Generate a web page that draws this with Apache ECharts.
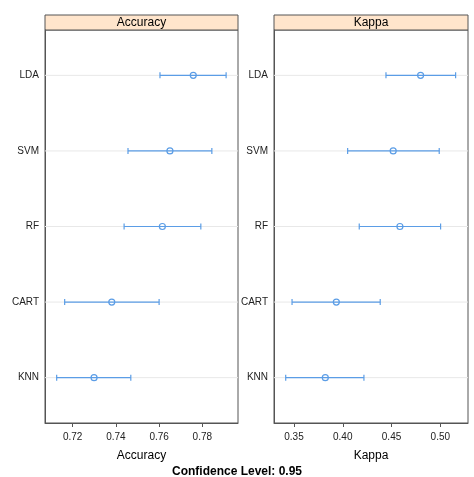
<!DOCTYPE html>
<html>
<head>
<meta charset="utf-8">
<script src="https://cdn.jsdelivr.net/npm/echarts@6/dist/echarts.min.js"></script>
<style>
  html, body { margin: 0; padding: 0; background: #fff; }
  #chart { width: 474px; height: 477px; }
</style>
</head>
<body>
<div id="chart"></div>
<script>
// models, top to bottom as shown
const models = ['LDA', 'SVM', 'RF', 'CART', 'KNN'];

const accMean = [0.7758, 0.7650, 0.7615, 0.7381, 0.7299];
const accLower = [0.7604, 0.7456, 0.7438, 0.7163, 0.7126];
const accUpper = [0.7910, 0.7844, 0.7793, 0.7600, 0.7469];

const kapMean = [0.4798, 0.4517, 0.4586, 0.3934, 0.3821];
const kapLower = [0.4443, 0.4050, 0.4169, 0.3480, 0.3415];
const kapUpper = [0.5157, 0.4989, 0.5003, 0.4384, 0.4217];

const accTicks = [0.72, 0.74, 0.76, 0.78];
const kapTicks = [0.35, 0.40, 0.45, 0.50];

const blue = '#5b9de6';
const frame = '#555555';
const font = '"Liberation Sans", Arial, sans-serif';

const chart = echarts.init(document.getElementById('chart'), null, { renderer: 'canvas' });

// row position: top row gets the highest value
function rowPos(i) { return models.length - 1 - i; }

function buildData(lower, mean, upper) {
  return models.map((m, i) => [lower[i], mean[i], upper[i], rowPos(i)]);
}

function renderBar(params, api) {
  const y = api.value(3);
  const lo = api.coord([api.value(0), y]);
  const mid = api.coord([api.value(1), y]);
  const hi = api.coord([api.value(2), y]);
  const style = { stroke: blue, lineWidth: 1.2 };
  return {
    type: 'group',
    children: [
      { type: 'line', shape: { x1: lo[0], y1: lo[1], x2: hi[0], y2: hi[1] }, style: style },
      { type: 'line', shape: { x1: lo[0], y1: lo[1] - 3, x2: lo[0], y2: lo[1] + 3 }, style: style },
      { type: 'line', shape: { x1: hi[0], y1: hi[1] - 3, x2: hi[0], y2: hi[1] + 3 }, style: style },
      { type: 'circle', shape: { cx: mid[0], cy: mid[1], r: 3 }, style: { stroke: blue, fill: 'none', lineWidth: 1.2 } }
    ]
  };
}

// light guide line across the panel for every row
function renderGuide(params, api) {
  const cs = params.coordSys;
  const y = api.coord([0, api.value(0)])[1];
  return {
    type: 'line',
    shape: { x1: cs.x, y1: y, x2: cs.x + cs.width, y2: y },
    style: { stroke: '#e8e8e8', lineWidth: 1 }
  };
}

const rowData = models.map((m, i) => [rowPos(i)]);

function xAxisFor(idx, min, max, ticks, name) {
  return {
    type: 'value',
    gridIndex: idx,
    min: min,
    max: max,
    name: name,
    nameLocation: 'middle',
    nameGap: 27,
    nameTextStyle: { fontFamily: font, fontSize: 12, color: '#000' },
    axisLine: { show: true, onZero: false, lineStyle: { color: frame } },
    axisTick: { show: true, customValues: ticks, length: 4, lineStyle: { color: frame } },
    axisLabel: {
      customValues: ticks,
      formatter: v => v.toFixed(2),
      fontFamily: font, fontSize: 10, color: '#222', margin: 9
    },
    splitLine: { show: false }
  };
}

function yAxisFor(idx) {
  return {
    type: 'value',
    gridIndex: idx,
    min: -0.6,
    max: 4.6,
    axisLine: { show: true, onZero: false, lineStyle: { color: frame } },
    axisTick: { show: false },
    axisLabel: {
      customValues: [0, 1, 2, 3, 4],
      formatter: v => models[models.length - 1 - Math.round(v)],
      fontFamily: font, fontSize: 10, color: '#222', margin: 6
    },
    splitLine: { show: false }
  };
}

function strip(x, w, text) {
  return {
    type: 'group',
    children: [
      { type: 'rect', shape: { x: x, y: 15, width: w, height: 15 },
        style: { fill: '#ffe5cc', stroke: frame, lineWidth: 1 } },
      { type: 'text', x: x + w / 2, y: 22.5,
        style: { text: text, fill: '#000', font: '12px ' + font, align: 'center', verticalAlign: 'middle' } }
    ]
  };
}

const option = {
  backgroundColor: '#fff',
  animation: false,
  title: {
    text: 'Confidence Level: 0.95',
    left: 'center',
    top: 461,
    textStyle: { fontFamily: font, fontSize: 12, fontWeight: 'bold', color: '#000' }
  },
  grid: [
    { left: 45, right: 236, top: 30, bottom: 54, show: true, borderColor: frame, borderWidth: 1 },
    { left: 274, right: 6, top: 30, bottom: 54, show: true, borderColor: frame, borderWidth: 1 }
  ],
  xAxis: [
    xAxisFor(0, 0.7072, 0.7965, accTicks, 'Accuracy'),
    xAxisFor(1, 0.3295, 0.5284, kapTicks, 'Kappa')
  ],
  yAxis: [yAxisFor(0), yAxisFor(1)],
  graphic: [strip(45, 193, 'Accuracy'), strip(274, 194, 'Kappa')],
  series: [
    { type: 'custom', xAxisIndex: 0, yAxisIndex: 0, renderItem: renderGuide, data: rowData, z: 1, silent: true },
    { type: 'custom', xAxisIndex: 1, yAxisIndex: 1, renderItem: renderGuide, data: rowData, z: 1, silent: true },
    { type: 'custom', name: 'Accuracy', xAxisIndex: 0, yAxisIndex: 0, renderItem: renderBar,
      data: buildData(accLower, accMean, accUpper), z: 2 },
    { type: 'custom', name: 'Kappa', xAxisIndex: 1, yAxisIndex: 1, renderItem: renderBar,
      data: buildData(kapLower, kapMean, kapUpper), z: 2 }
  ]
};

chart.setOption(option);
</script>
</body>
</html>
